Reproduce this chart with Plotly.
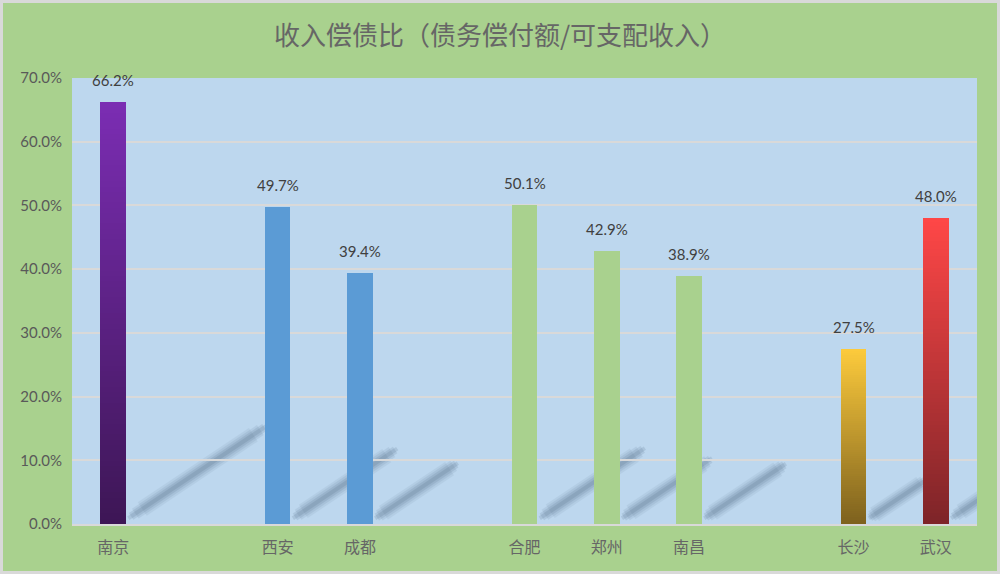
import plotly.graph_objects as go

# ---- data ----
categories = ["南京", " ", "西安", "成都", "  ", "合肥", "郑州", "南昌", "   ", "长沙", "武汉"]
values = [0.662, None, 0.497, 0.394, None, 0.501, 0.429, 0.389, None, 0.275, 0.480]
labels = ["66.2%", "", "49.7%", "39.4%", "", "50.1%", "42.9%", "38.9%", "", "27.5%", "48.0%"]
solid_colors = ["#5a2285", None, "#5b9bd5", "#5b9bd5", None, "#a9d18e", "#a9d18e", "#a9d18e", None, "#c49a2e", "#c03535"]
# gradient bars: category -> (bottom colour, top colour)
gradients = {
    "南京": ("#3d1655", "#7b2db3"),
    "长沙": ("#7d611e", "#fdcb3c"),
    "武汉": ("#7d2428", "#ff4747"),
}

TITLE = "收入偿债比（债务偿付额/可支配收入）"
BAR_W = 0.31
N_STEPS = 80


def hex2rgb(h):
    h = h.lstrip("#")
    return tuple(int(h[i:i + 2], 16) for i in (0, 2, 4))


def mix(c0, c1, t):
    a, b = hex2rgb(c0), hex2rgb(c1)
    return "rgb(%d,%d,%d)" % tuple(round(a[k] + (b[k] - a[k]) * t) for k in range(3))


fig = go.Figure()

# plain bars
fig.add_trace(go.Bar(
    x=categories, y=values, width=BAR_W,
    marker=dict(color=[c if c else "rgba(0,0,0,0)" for c in solid_colors], line=dict(width=0)),
    hoverinfo="x+y", showlegend=False,
))

# gradient overlay built from stacked slices of the same values
gx, gy, gb, gc = [], [], [], []
for cat, (c_bot, c_top) in gradients.items():
    v = values[categories.index(cat)]
    step = v / N_STEPS
    for k in range(N_STEPS):
        gx.append(cat)
        gy.append(step * 1.01)
        gb.append(step * k)
        gc.append(mix(c_bot, c_top, (k + 0.5) / N_STEPS))
fig.add_trace(go.Bar(
    x=gx, y=gy, base=gb, width=BAR_W,
    marker=dict(color=gc, line=dict(width=0)),
    hoverinfo="skip", showlegend=False,
))

# decorative diagonal shadows and value labels
shapes = []
annotations = []
for i, (cat, v, lab) in enumerate(zip(categories, values, labels)):
    if v is None:
        continue
    x0 = i + BAR_W / 2 + 0.03
    y0 = 0.009
    dx = 2.55 * v
    dy = 0.22 * v
    # blurred look: several strokes, wider ones shorter & fainter
    for w, op, trim in ((16, 0.07, 0.10), (12, 0.09, 0.05), (8, 0.12, 0.02), (4, 0.14, 0.0)):
        shapes.append(dict(type="line", xref="x", yref="y",
                           x0=x0 + dx * trim, y0=y0 + dy * trim,
                           x1=x0 + dx * (1 - trim), y1=y0 + dy * (1 - trim),
                           line=dict(color="#3c5570", width=w), opacity=op, layer="below"))
    annotations.append(dict(x=cat, y=v, xref="x", yref="y", text=lab, showarrow=False,
                            yanchor="bottom", yshift=11,
                            font=dict(family="Lato, Open Sans, sans-serif", size=15, color="#404040")))

# grey outer frame around the green chart
L, R, T, B, W, H = 72, 23, 78, 50, 1000, 574
pw, ph = W - L - R, H - T - B
shapes.append(dict(type="rect", xref="paper", yref="paper",
                   x0=(1.5 - L) / pw, x1=(W - 1.5 - L) / pw,
                   y0=1 - (H - 1.5 - T) / ph, y1=1 + (T - 1.5) / ph,
                   fillcolor="rgba(0,0,0,0)", line=dict(color="#d9d9d9", width=3), layer="above"))

fig.update_layout(
    width=W, height=H,
    margin=dict(l=L, r=R, t=T, b=B),
    paper_bgcolor="#a9d18e",
    plot_bgcolor="#bdd7ee",
    barmode="overlay",
    bargap=0,
    showlegend=False,
    title=dict(text=TITLE, x=0.5, xref="container", xanchor="center",
               y=1 - 36 / H, yref="container", yanchor="middle",
               font=dict(family="Noto Sans CJK SC", size=26, color="#666666")),
    xaxis=dict(type="category", categoryorder="array", categoryarray=categories,
               range=[-0.5, len(categories) - 0.5],
               showgrid=False, showline=True, linecolor="#d9d9d9", linewidth=2,
               ticks="outside", ticklen=8, tickcolor="rgba(0,0,0,0)",
               tickfont=dict(family="Noto Sans CJK SC", size=16, color="#666666"),
               fixedrange=True),
    yaxis=dict(range=[0, 0.7], dtick=0.1, tickformat=".1%",
               showgrid=True, gridcolor="#d9d9d9", gridwidth=1.5, zeroline=False,
               ticks="outside", ticklen=6, tickcolor="rgba(0,0,0,0)",
               tickfont=dict(family="Lato, Open Sans, sans-serif", size=15, color="#595959"),
               fixedrange=True),
    shapes=shapes,
    annotations=annotations,
)

fig.write_html("out.html")
